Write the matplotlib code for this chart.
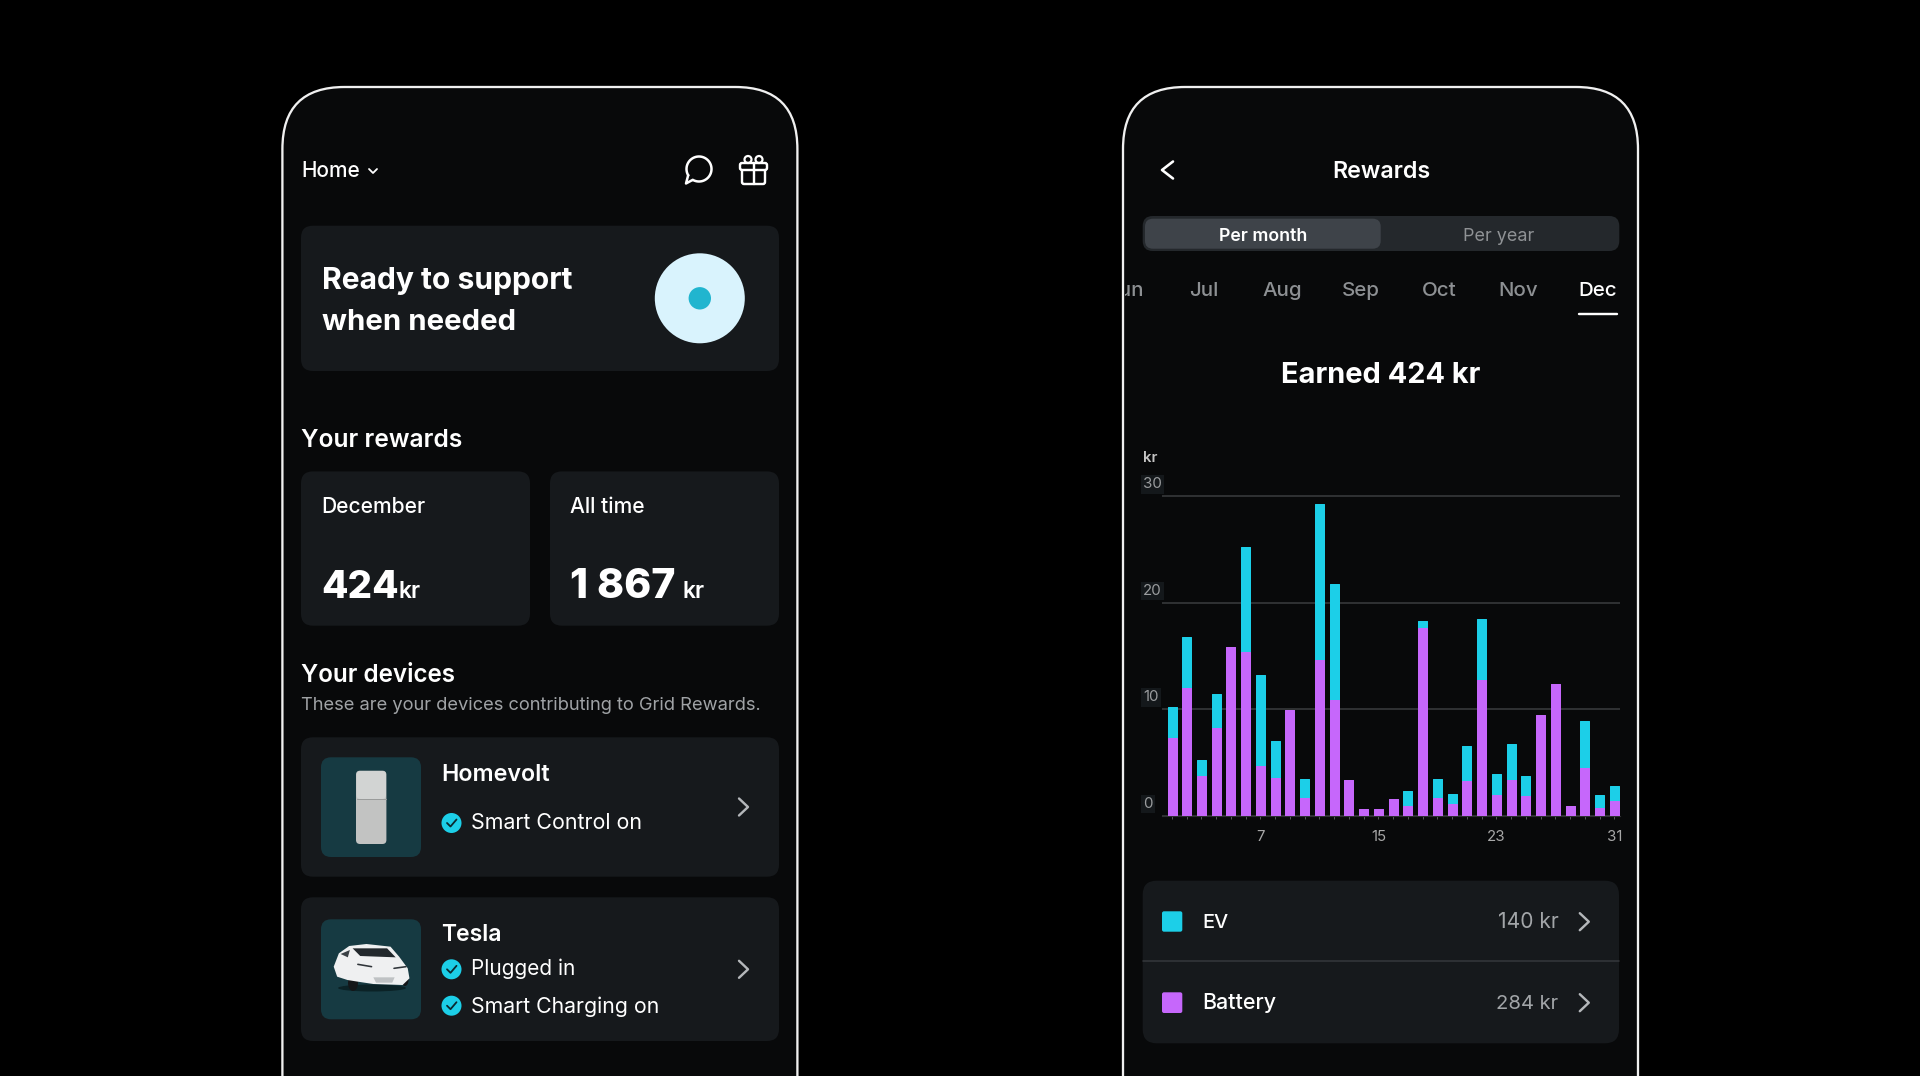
import numpy as np
import matplotlib
matplotlib.use('Agg')
import matplotlib.pyplot as plt
from matplotlib.patches import FancyBboxPatch, Circle, Polygon, Ellipse, Rectangle

# chart values
days = list(range(1, 32))
battery = [7.26, 11.95, 3.72, 8.2, 15.8, 15.33, 4.69, 3.5, 9.95, 1.69, 14.6, 10.89, 3.38, 0.66, 0.66, 1.6,
           0.88, 17.6, 1.69, 1.06, 3.25, 12.73, 1.97, 3.38, 1.85, 9.48, 12.39, 0.91, 4.47, 0.69, 1.41]
ev = [2.91, 4.78, 1.5, 3.25, 0, 9.85, 8.54, 3.5, 0, 1.78, 14.68, 10.88, 0, 0, 0, 0,
      1.4, 0.67, 1.78, 1.0, 3.29, 5.76, 1.97, 3.38, 1.87, 0, 0, 0, 4.41, 1.25, 1.37]
y_ticks = [0, 10, 20, 30]
x_labels = {7: '7', 15: '15', 23: '23', 31: '31'}
months = ['Jun', 'Jul', 'Aug', 'Sep', 'Oct', 'Nov', 'Dec']
month_x = [1125, 1203.7, 1282.3, 1361, 1439.3, 1518, 1597.7]

CYAN = '#1ccfe8'
PURPLE = '#c667fb'
PHONE = '#08090a'
CARD = '#16191c'
TEAL = '#163a42'
GREY = '#a2a5a8'
FONT = 'Inter'
W, H = 1920, 1076
PX = 0.72  # pt per pixel at dpi 100

fig = plt.figure(figsize=(W / 100, H / 100), dpi=100, facecolor='black')
bg = fig.add_axes([0, 0, 1, 1])
bg.set_xlim(0, W)
bg.set_ylim(H, 0)
bg.axis('off')


def box(x0, y0, x1, y1, color, r=12, ax=bg, **kw):
    p = FancyBboxPatch((x0, y0), x1 - x0, y1 - y0, boxstyle='round,pad=0,rounding_size=%s' % r,
                       mutation_scale=1, fc=color, ec='none', **kw)
    ax.add_patch(p)
    return p


def txt(x, y, s, px, color='white', weight='normal', ha='left'):
    # y is the middle of the capitals
    return bg.text(x, y + 0.36 * px, s, fontsize=px * PX, color=color, fontweight=weight,
                   ha=ha, va='baseline', family=FONT)


def line(xs, ys, color='white', lw=2.0):
    bg.plot(xs, ys, color=color, lw=lw * PX, solid_capstyle='round', solid_joinstyle='round')


def chevron(cx, cy, w=9, h=17, color='#b4b7ba', lw=2.4):
    line([cx - w / 2, cx + w / 2, cx - w / 2], [cy - h / 2, cy, cy + h / 2], color, lw)


def check(cx, cy):
    bg.add_patch(Circle((cx, cy), 10, fc=CYAN, ec='none'))
    line([cx - 4.5, cx - 1, cx + 5], [cy, cy + 3.5, cy - 3.5], '#0b2a30', 1.8)


def car(pts):
    return [[270 + x / 2.904, 720 + y / 3] for x, y in pts]


# phones
for left in [282.4, 1123]:
    p = FancyBboxPatch((left, 87), 515, 1150, boxstyle='round,pad=0,rounding_size=62', mutation_scale=1,
                       fc=PHONE, ec='#f0f0f0', lw=2.3 * PX)
    bg.add_patch(p)

# left phone, header
txt(301.7, 170, 'Home', 20.8, weight='medium')
line([369, 373, 377], [169, 173, 169], 'white', 1.8)
t = np.radians(np.linspace(150, 480, 60))
line(list(699 + 12.5 * np.cos(t)) + [686, 688.2], list(169 + 12.5 * np.sin(t)) + [183.5, 175.2], 'white', 2.5)
bg.add_patch(FancyBboxPatch((742, 169), 23, 15, boxstyle='round,pad=0,rounding_size=2', mutation_scale=1,
                            fc='none', ec='white', lw=2.4 * PX))
bg.add_patch(FancyBboxPatch((740, 163), 27, 7, boxstyle='round,pad=0,rounding_size=2', mutation_scale=1,
                            fc=PHONE, ec='white', lw=2.4 * PX))
line([753.5, 753.5], [163, 184], 'white', 2.4)
bg.add_patch(Circle((748, 159.5), 3.5, fc='none', ec='white', lw=2.2 * PX))
bg.add_patch(Circle((759, 159.5), 3.5, fc='none', ec='white', lw=2.2 * PX))

# status card
box(301, 225.7, 779, 371, CARD)
txt(322, 278, 'Ready to support', 30, weight='bold')
txt(322, 319, 'when needed', 29.4, weight='bold')
bg.add_patch(Circle((699.8, 298.3), 45, fc='#d9f3fd', ec='none'))
bg.add_patch(Circle((699.8, 298.3), 11.2, fc='#21b5cf', ec='none'))

# rewards
txt(301, 438.5, 'Your rewards', 24.6, weight='semibold')
box(301, 471.4, 530, 625.7, CARD)
box(550, 471.4, 779, 625.7, CARD)
txt(321.5, 505.7, 'December', 21, weight='medium')
txt(569.5, 505.7, 'All time', 21, weight='medium')
bg.text(321.5, 597.5, '424', fontsize=38.5 * PX, color='white', fontweight='heavy', family=FONT)
bg.text(398, 597.5, 'kr', fontsize=23 * PX, color='white', fontweight='semibold', family=FONT)
bg.text(569.5, 597.5, '1 867', fontsize=41 * PX, color='white', fontweight='heavy', family=FONT)
bg.text(682, 597.5, 'kr', fontsize=23 * PX, color='white', fontweight='semibold', family=FONT)

# devices
txt(301, 673.5, 'Your devices', 24.2, weight='semibold')
txt(301, 703, 'These are your devices contributing to Grid Rewards.', 18.3, color='#a0a3a6')

box(301, 737.3, 779, 876.7, CARD)
box(321, 757.3, 421, 857, TEAL, r=10)
box(356, 770.7, 386.4, 844, '#c2c3c2', r=4)
box(356.5, 771, 386, 799, '#d2d4d3', r=4)
line([357, 386], [799, 799], '#9a9c9b', 1)
txt(441.5, 772.7, 'Homevolt', 23.3, weight='semibold')
check(451.5, 823)
txt(471.4, 821.7, 'Smart Control on', 21.4)
chevron(743.5, 807)

box(301, 897.3, 779, 1041, CARD)
box(321, 919.3, 421, 1019.3, TEAL, r=10)
# car
bg.add_patch(Ellipse((372, 988), 68, 7, fc='#0b2226', ec='none'))
bg.add_patch(Ellipse((353, 983), 10, 16, fc='#141618', ec='none'))
bg.add_patch(Ellipse((405, 980), 7, 12, fc='#141618', ec='none'))
bg.add_patch(Polygon(car([(185, 740), (200, 700), (230, 678), (280, 672), (350, 680), (375, 710), (400, 745),
                          (405, 775), (385, 795), (300, 792), (255, 785), (225, 780), (195, 770)]),
                     fc='#eff0f1', ec='none'))
bg.add_patch(Polygon(car([(240, 685), (340, 685), (365, 712), (262, 708)]), fc='#22282c', ec='none'))
bg.add_patch(Polygon(car([(205, 702), (232, 690), (226, 712)]), fc='#3a4045', ec='none'))
line(*zip(*car([(255, 733), (295, 740)])), '#30353a', 1.6)
line(*zip(*car([(360, 745), (395, 740)])), '#30353a', 1.6)
bg.add_patch(Polygon(car([(300, 772), (362, 772), (355, 788), (308, 788)]), fc='#bfc2c4', ec='none'))
txt(441.5, 932.7, 'Tesla', 23, weight='semibold')
check(451.5, 969.3)
txt(471.4, 968, 'Plugged in', 20.8)
check(451.5, 1005.7)
txt(471.4, 1005, 'Smart Charging on', 21.3)
chevron(743.5, 969.3)

# right phone, header
line([1173, 1162, 1173], [161.5, 170, 178.5], 'white', 2.6)
txt(1381, 169.5, 'Rewards', 23.2, weight='semibold', ha='center')
box(1142.7, 216, 1619.3, 251, '#24282c', r=10)
box(1145, 218.7, 1380.7, 248.7, '#3e4349', r=8)
txt(1262.7, 234.5, 'Per month', 17.7, weight='semibold', ha='center')
txt(1499, 234.5, 'Per year', 18, color='#8f9295', ha='center')
# agg only clips text to a box, not to a path
month_clip = Rectangle((1124.5, 260), 510, 60, transform=bg.transData)
for m, mx in zip(months, month_x):
    mt = txt(mx, 288.7, m, 20.5, color='white' if m == 'Dec' else '#8d9093', ha='center', weight='medium')
    mt.set_clip_on(True)
    mt.set_clip_path(month_clip)
line([1579, 1617], [314, 314], 'white', 2.4)
txt(1380.7, 373, 'Earned 424 kr', 29, weight='bold', ha='center')

# bar chart, on its own axes with real scales
px_day = 14.745
px_unit = 10.657
ax_left, ax_right, ax_bottom = 1162, 1620, 815.7
ax_top = ax_bottom - 31 * px_unit
ax = fig.add_axes([ax_left / W, (H - ax_bottom) / H, (ax_right - ax_left) / W, (ax_bottom - ax_top) / H])
ax.patch.set_alpha(0)
ax.set_xlim(1 - (1172 - ax_left) / px_day, 1 + (ax_right - 1172) / px_day)
ax.set_ylim(0, 31)
bar_w = 9 / px_day
ax.bar(days, ev, bottom=battery, width=bar_w, color=CYAN, edgecolor=CYAN, lw=PX, joinstyle='round', zorder=3)
ax.bar(days, battery, width=bar_w, color=PURPLE, edgecolor=PURPLE, lw=PX, joinstyle='round', zorder=4)
ax.set_yticks(y_ticks)
ax.set_yticklabels([])
ax.yaxis.grid(True, color='#2e3032', lw=2 * PX)
ax.set_axisbelow(True)
ax.set_xticks(days)
ax.set_xticklabels([x_labels.get(d, '') for d in days], family=FONT, fontsize=15 * PX, color='#a8a8a8')
ax.tick_params(axis='x', length=3 * PX, width=PX, color='#55585a', pad=11 * PX)
ax.tick_params(axis='y', length=0)
for s in ['top', 'left', 'right']:
    ax.spines[s].set_visible(False)
ax.spines['bottom'].set_color('#2e3032')
for v in y_ticks:
    ax.annotate(str(v), xy=(0, v), xycoords=ax.get_yaxis_transform(), xytext=(-19 * PX, 11.7 * PX),
                textcoords='offset points', ha='left', va='center', family=FONT, fontsize=15 * PX,
                color='#9a9c9e', annotation_clip=False,
                bbox=dict(boxstyle='square,pad=0.15', fc='#14181b', ec='none'))
txt(1142.7, 456.5, 'kr', 15, color='#c4c4c4', weight='semibold')

# legend card
box(1142.7, 880.7, 1619, 1043.3, CARD, r=14)
line([1142.7, 1619], [961, 961], '#33363a', 1.6)
box(1162, 911.3, 1182.3, 931.7, CYAN, r=2)
box(1162, 992.3, 1182.3, 1013, PURPLE, r=2)
txt(1202.7, 920.7, 'EV', 20, weight='medium')
txt(1202.7, 1001.7, 'Battery', 21.4, weight='medium')
txt(1558.3, 920.7, '140 kr', 21, color=GREY, ha='right')
txt(1558.3, 1001.7, '284 kr', 20.2, color=GREY, ha='right')
chevron(1584.3, 921.7)
chevron(1584.3, 1002.7)

fig.savefig('out.png', dpi=100, facecolor='black')
